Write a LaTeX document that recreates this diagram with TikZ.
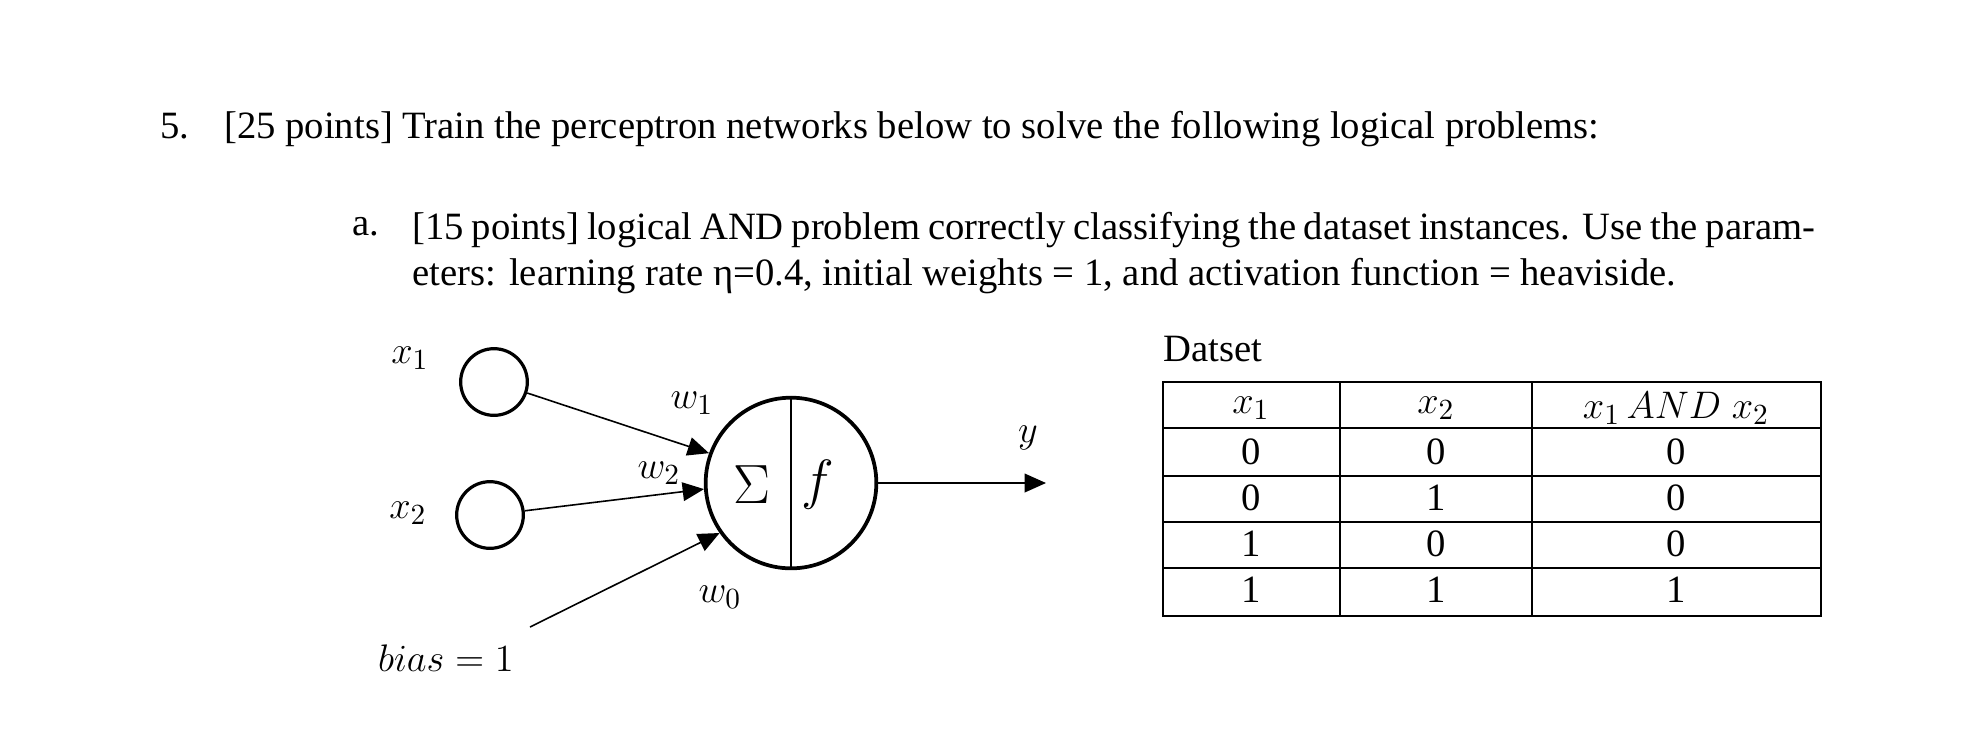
\documentclass[tikz,border=0pt]{standalone}
\usepackage{fontspec}
\setmainfont{Liberation Serif}
\usetikzlibrary{arrows.meta}
\begin{document}
\begin{tikzpicture}[x=0.375pt,y=-0.375pt,
  txt/.style={inner sep=0pt,font=\fontsize{14.5}{17}\selectfont},
  mth/.style={inner sep=0pt,font=\fontsize{15}{17}\selectfont},
  inp/.style={draw,circle,line width=1.2pt,minimum size=25pt,inner sep=0pt},
  con/.style={line width=0.6pt,-{Triangle[length=8pt,width=7pt]}},
  cell/.style={inner sep=0pt,font=\fontsize{14.5}{17}\selectfont}]
\useasboundingbox (0,0) rectangle (1962,738);
\node[txt,anchor=base west] (q) at (160,138) {5.\hspace{0.9em}[25 points] Train the perceptron networks below to solve the following logical problems:};
\node[txt,anchor=base west] (a) at (352,235) {a.};
\node[txt,anchor=north west,text width=526pt,align=justify] (pa) at (412,212) {[15 points] logical AND problem correctly classifying the dataset instances. Use the parameters: learning rate \texttt{\fontspec{Liberation Serif}η}=0.4, initial weights = 1, and activation function = heaviside.};
% network
\node[inp] (i1) at (494,382) {};
\node[inp] (i2) at (490,515) {};
\node[draw,circle,line width=1.4pt,minimum size=64pt,inner sep=0pt] (n) at (791,483) {};
\draw[line width=0.6pt] (n.north) -- (n.south);
\node[inner sep=0pt,font=\fontsize{22}{24}\selectfont] (sig) at (752,485) {$\Sigma$};
\node[inner sep=0pt,font=\fontsize{22}{24}\selectfont] (f) at (818,485) {$f$};
\node[mth] (lx1) at (410,358) {$x_1$};
\node[mth] (lx2) at (408,513) {$x_2$};
\node[mth] (lw1) at (692,403) {$w_1$};
\node[mth] (lw2) at (659,473) {$w_2$};
\node[mth] (lw0) at (720,597) {$w_0$};
\node[mth] (ly) at (1028,438) {$y$};
\node[mth] (lb) at (446,658) {$bias=1$};
\coordinate (bs) at (530,627);
\coordinate (yo) at (1046,483);
\draw[con] (i1) -- (n.160);
\draw[con] (i2) -- (n.184);
\draw[con] (bs) -- (n.215);
\draw[con] (n) -- (yo);
% table
\node[txt,anchor=base west] (ds) at (1163,361) {Datset};
\draw[line width=0.8pt] (1163,382) rectangle (1821,616);
\foreach \yy in {428,476,522,568} \draw[line width=0.8pt] (1163,\yy) -- (1821,\yy);
\foreach \xx in {1340,1532} \draw[line width=0.8pt] (\xx,382) -- (\xx,616);
\node[mth] (h1) at (1251,408) {$x_1$};
\node[mth] (h2) at (1436,408) {$x_2$};
\node[mth] (h3) at (1676,408) {$x_1\,AND\;x_2$};
\foreach \r/\a/\b/\c in {0/0/0/0,1/0/1/0,2/1/0/0,3/1/1/1}{
  \node[cell] (c1\r) at (1251,452+46*\r) {\a};
  \node[cell] (c2\r) at (1436,452+46*\r) {\b};
  \node[cell] (c3\r) at (1676,452+46*\r) {\c};
}
\end{tikzpicture}
\end{document}
